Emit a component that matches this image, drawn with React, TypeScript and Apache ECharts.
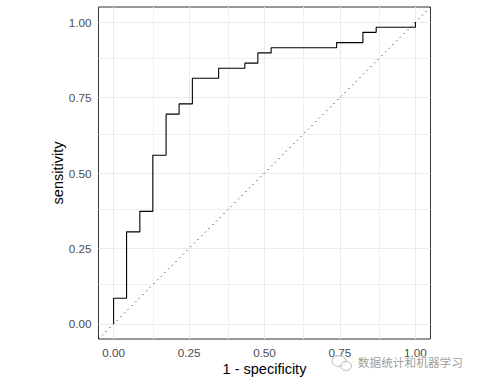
import React, { useEffect, useRef } from "react";
import * as echarts from "echarts";

// ROC curve
const fpr = [0, 0, 0.043, 0.087, 0.13, 0.174, 0.217, 0.261, 0.348, 0.435, 0.478, 0.522, 0.739, 0.826, 0.87, 1.0];
const tpr = [0, 0.085, 0.305, 0.373, 0.559, 0.695, 0.729, 0.814, 0.847, 0.864, 0.898, 0.915, 0.932, 0.966, 0.983, 1.0];
const majorBreaks = [0, 0.25, 0.5, 0.75, 1];
const minorBreaks = [0.125, 0.375, 0.625, 0.875];
const tickLabels = ["0.00", "0.25", "0.50", "0.75", "1.00"];
const axisRange = [-0.05, 1.05];
const diagonal = [-0.05, 1.05];

const FONT = "'Liberation Sans', Arial, sans-serif";

export default function App() {
  const ref = useRef<HTMLDivElement>(null);
  useEffect(() => {
    if (!ref.current) return;
    const chart = echarts.init(ref.current, undefined, { renderer: "svg", width: 480, height: 384 });

    const stepPts: number[][] = [];
    for (let i = 0; i < fpr.length; i++) {
      if (i > 0) stepPts.push([fpr[i], tpr[i - 1]]);
      stepPts.push([fpr[i], tpr[i]]);
    }

    const labelFmt = (v: number) => {
      const idx = majorBreaks.findIndex((b) => Math.abs(b - v) < 1e-9);
      return idx >= 0 ? tickLabels[idx] : "";
    };

    const axisCommon = {
      type: "value" as const,
      min: axisRange[0],
      max: axisRange[1],
      axisLine: { show: false },
      axisTick: {
        show: true,
        customValues: majorBreaks,
        length: 3.7,
        lineStyle: { color: "#333333", width: 1 },
      },
      axisLabel: {
        customValues: majorBreaks,
        formatter: labelFmt,
        color: "#4D4D4D",
        fontSize: 11.7,
        fontFamily: FONT,
        margin: 7,
      },
      splitLine: { show: false },
      nameLocation: "middle" as const,
      nameMoveOverlap: false,
      nameTextStyle: { color: "#000000", fontSize: 14.5, fontFamily: FONT },
    };

    const minorStyle = { color: "#F0F0F0", width: 1, type: "solid" as const };
    const majorStyle = { color: "#EBEBEB", width: 1, type: "solid" as const };
    const gridLines = [
      ...minorBreaks.map((v) => ({ xAxis: v, lineStyle: minorStyle })),
      ...minorBreaks.map((v) => ({ yAxis: v, lineStyle: minorStyle })),
      ...majorBreaks.map((v) => ({ xAxis: v, lineStyle: majorStyle })),
      ...majorBreaks.map((v) => ({ yAxis: v, lineStyle: majorStyle })),
    ];

    chart.setOption({
      animation: false,
      backgroundColor: "#FFFFFF",
      grid: {
        left: 98.5,
        top: 7,
        width: 332,
        height: 332,
        show: true,
        borderColor: "#333333",
        borderWidth: 1,
        backgroundColor: "#FFFFFF",
        containLabel: false,
      },
      xAxis: { ...axisCommon, name: "1 - specificity", nameGap: 22 },
      yAxis: { ...axisCommon, name: "sensitivity", nameGap: 33 },
      series: [
        {
          type: "line",
          data: [],
          silent: true,
          symbol: "none",
          markLine: {
            silent: true,
            symbol: ["none", "none"],
            label: { show: false },
            lineStyle: { type: "solid" },
            z: 1,
            data: gridLines,
          },
        },
        {
          type: "line",
          data: diagonal.map((v) => [v, v]),
          symbol: "none",
          z: 3,
          lineStyle: { color: "#000000", width: 1, type: [1, 4.2] },
        },
        {
          type: "line",
          data: stepPts,
          symbol: "none",
          z: 4,
          lineStyle: { color: "#000000", width: 1.1 },
        },
      ],
      graphic: [
        {
          type: "ellipse",
          shape: { cx: 339, cy: 361, rx: 7, ry: 5.5 },
          style: { fill: "rgba(255,255,255,0.6)", stroke: "#BBBBBB", lineWidth: 1 },
          z: 10,
        },
        {
          type: "ellipse",
          shape: { cx: 346, cy: 366, rx: 5.5, ry: 4.5 },
          style: { fill: "rgba(255,255,255,0.6)", stroke: "#BBBBBB", lineWidth: 1 },
          z: 10,
        },
        {
          type: "text",
          left: 357,
          top: 355,
          z: 10,
          style: {
            text: "数据统计和机器学习",
            fill: "#A0A0A0",
            fontSize: 11.7,
            fontFamily: "'Noto Sans CJK SC', sans-serif",
            stroke: "#FFFFFF",
            lineWidth: 1.5,
          },
        },
      ],
    });
    return () => chart.dispose();
  }, []);
  return <div ref={ref} style={{ position: "fixed", left: 0, top: 0, width: 480, height: 384 }} />;
}
